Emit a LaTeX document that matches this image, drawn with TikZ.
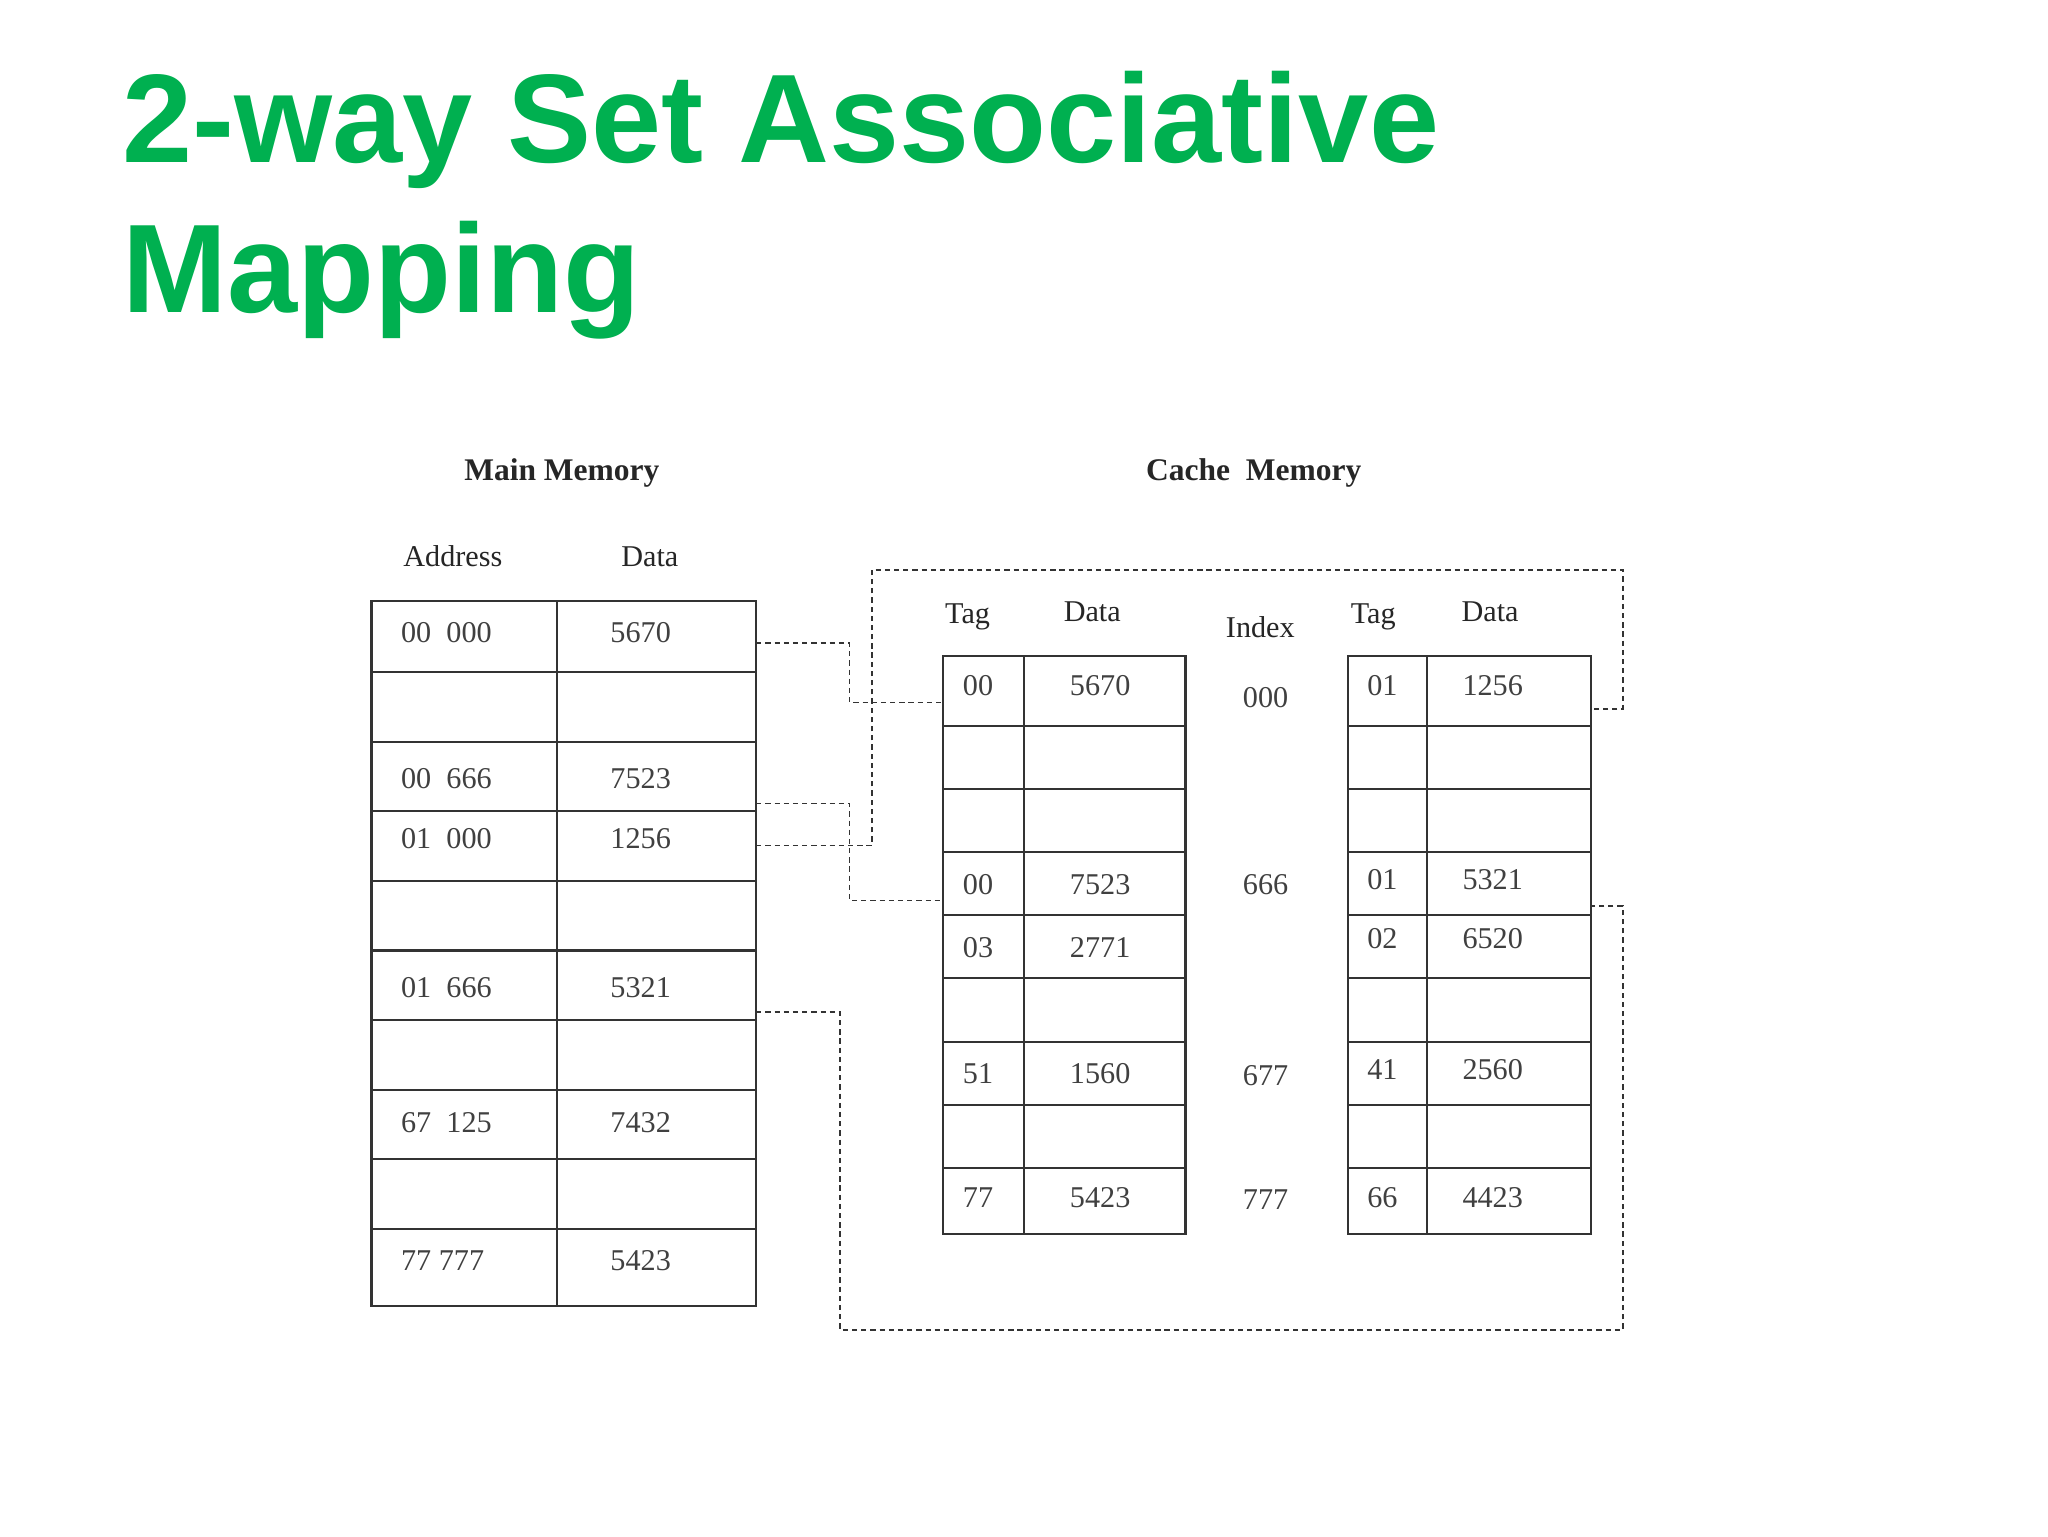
\documentclass[tikz,border=0pt]{standalone}
\usepackage{fontspec}
\setmainfont{Liberation Serif}
\newfontfamily\titlefont{Liberation Sans}
\definecolor{titlegreen}{RGB}{0,176,80}
\begin{document}
\begin{tikzpicture}[x=1pt,y=-1pt,
  cell/.style={font=\fontsize{23}{23}\selectfont, text=black!75},
  head/.style={font=\fontsize{23}{23}\selectfont, text=black!85},
  bighead/.style={font=\bfseries\fontsize{24}{24}\selectfont, text=black!85},
  grid/.style={draw=black!80, line width=1.6pt},
  conn/.style={draw=black!80, dashed, line width=1.3pt, dash pattern=on 4pt off 3pt}]
\useasboundingbox[fill=white] (0,0) rectangle (1560,1170);
\node[anchor=base west, font=\titlefont\bfseries\fontsize{96}{96}\selectfont, text=titlegreen, inner sep=0] (t1) at (93,124) {2-way Set Associative};
\node[anchor=base west, font=\titlefont\bfseries\fontsize{96}{96}\selectfont, text=titlegreen, inner sep=0] (t2) at (93,238) {Mapping};
% headers
\node[bighead] (mmh) at (428,360) {Main Memory};
\node[bighead] (cmh) at (955,360) {Cache\ \ Memory};
\node[head] (ah) at (345,424) {Address};
\node[head] (dh) at (495,424) {Data};
\node[head] (tg1) at (737,470) {Tag};
\node[head] (dt1) at (832,466) {Data};
\node[head] (ix) at (960,478) {Index};
\node[head] (tg2) at (1046,470) {Tag};
\node[head] (dt2) at (1135,466) {Data};
% main memory grid
\draw[grid] (283,458) rectangle (576,995);
\draw[grid] (424,458) -- (424,995);
\foreach \y in {512,565,618,671,724,777,830,883,936} \draw[grid] (283,\y) -- (576,\y);
% cache grids
\foreach \a/\b/\c in {718/780/903, 1027/1087/1212}{
  \draw[grid] (\a,500) rectangle (\c,940);
  \draw[grid] (\b,500) -- (\b,940);
  \foreach \y in {553,601,649,697,745,794,842,890} \draw[grid] (\a,\y) -- (\c,\y);
}
% main memory texts
\foreach \y/\ad/\d [count=\i] in {482/00\ \ 000/5670, 593/00\ \ 666/7523, 639/01\ \ 000/1256, 752/01\ \ 666/5321, 855/67\ \ 125/7432, 960/77 777/5423}{
  \node[cell, anchor=west] (ma\i) at (302,\y) {\ad};
  \node[cell] (md\i) at (488,\y) {\d};
}
% cache way 1
\foreach \y/\t/\d [count=\i] in {522/00/5670, 674/00/7523, 722/03/2771, 818/51/1560, 912/77/5423}{
  \node[cell] (ct\i) at (745,\y) {\t};
  \node[cell] (cd\i) at (838,\y) {\d};
}
% cache way 2
\foreach \y/\t/\d [count=\i] in {522/01/1256, 670/01/5321, 715/02/6520, 815/41/2560, 912/66/4423}{
  \node[cell] (wt\i) at (1053,\y) {\t};
  \node[cell] (wd\i) at (1137,\y) {\d};
}
% index
\foreach \y/\t [count=\i] in {531/000, 674/666, 819/677, 914/777}
  \node[cell] (ix\i) at (964,\y) {\t};
% connector coordinates
\coordinate (m1) at (576,490);
\coordinate (m3) at (576,612);
\coordinate (m4) at (576,644);
\coordinate (m6) at (576,771);
\coordinate (c1) at (718,535);
\coordinate (c4) at (718,686);
\coordinate (w1) at (1212,540);
\coordinate (w4) at (1212,690);
\draw[conn] (m1) -- (647,490) -- (647,535) -- (c1);
\draw[conn] (m3) -- (647,612) -- (647,686) -- (c4);
\draw[conn] (m4) -- (664,644) -- (664,434) -- (1236,434) -- (1236,540) -- (w1);
\draw[conn] (m6) -- (640,771) -- (640,1013) -- (1236,1013) -- (1236,690) -- (w4);
\end{tikzpicture}
\end{document}
